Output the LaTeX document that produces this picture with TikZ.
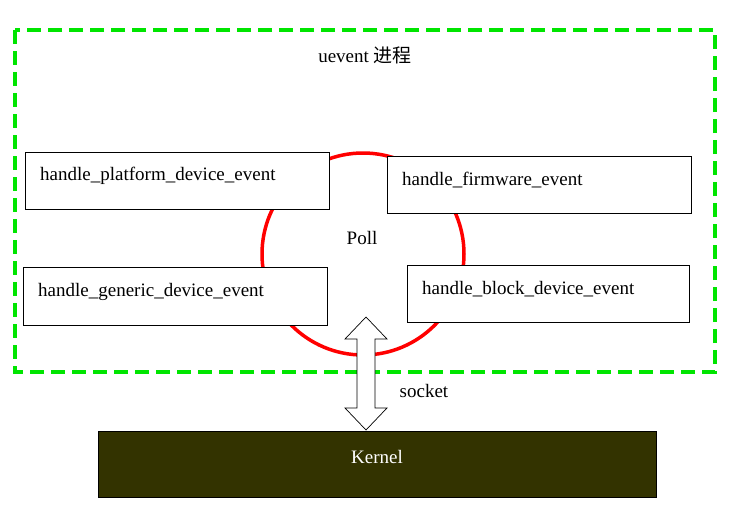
\documentclass[tikz,border=0pt]{standalone}
\usepackage{fontspec}
\setmainfont{Liberation Serif}
\newfontfamily\cjk{Noto Sans CJK SC}
\begin{document}
\begin{tikzpicture}[x=1pt,y=-1pt,
  box/.style={draw=black,fill=white,line width=0.8pt},
  lbl/.style={font=\fontsize{19}{22}\selectfont,anchor=west,inner sep=0}]
\useasboundingbox (0,0) rectangle (755,514);
\draw[draw=green!90!black,line width=4pt,dash pattern=on 14pt off 7pt] (15,30) rectangle (715,372);
\node[font=\fontsize{19}{22}\selectfont] (title) at (365,55) {uevent {\cjk 进程}};
\draw[red,line width=3.5pt] (363,254) circle (101);
\draw[box] (25,152) rectangle (329,209);
\node[lbl] (p) at (40,176) {handle\_platform\_device\_event};
\draw[box] (387,156) rectangle (691,213);
\node[lbl] (f) at (402,180) {handle\_firmware\_event};
\draw[box] (23,267) rectangle (327,325);
\node[lbl] (g) at (38,292) {handle\_generic\_device\_event};
\draw[box] (407,265) rectangle (689,322);
\node[lbl] (b) at (422,289) {handle\_block\_device\_event};
\node[font=\fontsize{19}{22}\selectfont] (poll) at (362,238) {Poll};
\draw[fill=white,line width=0.7pt] (366,317) -- (387,339) -- (375,339) -- (375,408) -- (387,408) -- (366,430) -- (345,408) -- (357,408) -- (357,339) -- (345,339) -- cycle;
\node[font=\fontsize{19}{22}\selectfont] (socket) at (424,391) {socket};
\fill[fill={rgb,255:red,51;green,51;blue,0},draw=black] (98,431) rectangle (656,497);
\node[font=\fontsize{19}{22}\selectfont,text=white] (k) at (377,457) {Kernel};
\end{tikzpicture}
\end{document}
